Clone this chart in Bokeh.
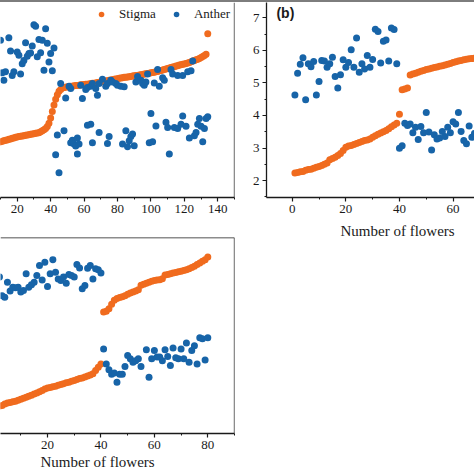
from bokeh.plotting import figure
from bokeh.layouts import column, row
from bokeh.models import Range1d, Legend, LegendItem, Span, Label, SingleIntervalTicker, Title
from bokeh.embed import file_html
from bokeh.resources import INLINE

STIGMA_COLOR = "#F06B1E"
ANTHER_COLOR = "#1764A8"
INK = "#1a1a1a"
SERIF = "Liberation Serif"

# ---------------- panel (a): flower number vs. length ----------------
a_stigma_x = list(range(9, 135))
a_stigma_y = [
    3.18,
    3.19, 3.21, 3.22, 3.24, 3.25, 3.27, 3.28, 3.30, 3.31, 3.33,
    3.34, 3.35, 3.36, 3.37, 3.38, 3.39, 3.40, 3.41, 3.42, 3.43,
    3.44, 3.45, 3.46, 3.47, 3.50, 3.53, 3.56, 3.60, 3.66, 3.76,
    3.92, 4.12, 4.32, 4.50, 4.64, 4.74, 4.80, 4.84, 4.86, 4.87,
    4.88, 4.89, 4.90, 4.90, 4.91, 4.92, 4.92, 4.93, 4.94, 4.94,
    4.95, 4.96, 4.96, 4.97, 4.98, 4.99, 4.99, 5.00, 5.01, 5.02,
    5.03, 5.04, 5.05, 5.06, 5.07, 5.08, 5.09, 5.10, 5.11, 5.12,
    5.13, 5.14, 5.15, 5.16, 5.17, 5.17, 5.18, 5.19, 5.20, 5.21,
    5.22, 5.23, 5.23, 5.24, 5.25, 5.26, 5.27, 5.28, 5.29, 5.30,
    5.31, 5.32, 5.33, 5.34, 5.35, 5.37, 5.38, 5.40, 5.41, 5.43,
    5.44, 5.46, 5.47, 5.49, 5.50, 5.52, 5.53, 5.55, 5.56, 5.57,
    5.58, 5.60, 5.61, 5.63, 5.65, 5.67, 5.69, 5.71, 5.73, 5.75,
    5.78, 5.81, 5.84, 5.88, 6.51,
]
a_anther_x = [
    10, 11, 12, 13, 15, 16, 17, 18, 20, 21, 22, 23, 24, 25, 26, 27, 28, 29,
    30, 31, 32, 33, 34, 35, 36, 37, 38, 39, 40, 41, 42,
    43, 44, 45, 46, 48, 49, 51, 52, 52, 53, 54, 55, 56, 56, 57, 58, 59,
    61, 62, 62, 64, 64, 65, 65, 67, 68, 69, 69, 71, 73, 74, 74, 75, 76, 77,
    79, 80, 82, 83, 84, 85, 86, 87, 88, 89, 90, 91, 92, 94, 95, 96, 97, 98,
    99, 100, 101, 102, 103, 104, 105, 107, 108, 109, 110, 111, 112, 113, 114,
    116, 116, 118, 119, 119, 121, 122, 123, 124, 125, 126, 127, 128, 129,
    130, 131, 132, 133, 134,
]
a_anther_y = [
    6.31, 5.31, 5.08, 5.34, 6.39, 5.98, 5.23, 5.34, 5.95, 5.85, 5.27, 5.59, 5.69, 6.23, 5.82, 5.90, 5.92, 6.13,
    6.79, 6.74, 5.80, 6.33, 5.93, 6.31, 5.39, 6.66, 6.22, 5.64, 5.90, 5.37, 6.07,
    2.79, 3.40, 2.24, 4.98, 3.53, 4.54, 4.90, 3.16, 4.83, 3.24, 3.12, 3.06, 2.82, 3.31, 3.12, 4.93, 4.52,
    4.80, 4.86, 3.70, 4.90, 3.73, 4.98, 3.16, 4.83, 4.62, 4.98, 3.48, 5.11, 4.90, 4.98, 3.14, 3.35, 5.08, 5.03,
    4.98, 4.93, 4.90, 3.12, 4.88, 3.53, 3.04, 3.22, 3.35, 3.43, 3.07, 5.03, 5.20, 5.08, 4.98, 4.93, 5.03, 5.27,
    3.16, 4.06, 3.19, 5.00, 3.68, 5.41, 4.90, 5.16, 5.08, 3.79, 3.63, 2.82, 5.41, 5.27, 3.63,
    3.60, 5.23, 3.73, 3.98, 5.23, 3.67, 5.34, 3.31, 5.37, 5.67, 3.38, 3.48, 3.73, 3.91,
    3.67, 3.19, 3.60, 3.91, 3.96,
]

# ---------------- panel (b) ----------------
b_stigma_x = list(range(1, 69))
b_stigma_y = [
    2.23, 2.25, 2.27, 2.28, 2.32, 2.34, 2.35, 2.38, 2.41, 2.43,
    2.46, 2.50, 2.54, 2.64, 2.68, 2.72, 2.77, 2.83, 2.92, 3.02,
    3.06, 3.08, 3.11, 3.14, 3.17, 3.20, 3.23, 3.25, 3.28, 3.33,
    3.38, 3.42, 3.46, 3.50, 3.54, 3.59, 3.65, 3.71, 3.76, 4.04,
    4.79, 4.81, 4.84, 5.24, 5.27, 5.30, 5.33, 5.36, 5.38, 5.41,
    5.43, 5.45, 5.47, 5.49, 5.51, 5.53, 5.55, 5.57, 5.60, 5.63,
    5.65, 5.67, 5.69, 5.71, 5.73, 5.74, 5.75, 5.76,
]
b_anther_x = list(range(1, 69))
b_anther_y = [
    4.63, 5.30, 5.57, 5.77, 4.48, 5.59, 5.50, 5.66, 4.63, 5.04,
    5.69, 5.67, 5.48, 5.59, 5.79, 5.20, 4.84, 5.25, 5.71, 5.48,
    5.63, 6.02, 5.48, 6.38, 5.33, 5.59, 5.43, 5.84, 5.48, 5.72,
    6.65, 6.58, 5.61, 6.28, 6.32, 5.67, 6.69, 6.64, 5.59, 2.99,
    3.07, 3.76, 3.69, 3.74, 3.47, 3.64, 3.26, 3.66, 3.47, 4.09,
    3.49, 2.94, 3.41, 3.28, 3.31, 3.51, 3.35, 3.64, 3.47, 3.81,
    3.74, 4.09, 3.51, 3.23, 3.13, 3.68, 3.33, 3.45,
]

# ---------------- lower panel ----------------
c_stigma_x = list(range(2, 81))
c_stigma_y = [
    2.34, 2.36, 2.40, 2.43, 2.45, 2.47, 2.49, 2.52, 2.55, 2.58,
    2.61, 2.64, 2.67, 2.71, 2.74, 2.78, 2.82, 2.86, 2.89, 2.91,
    2.93, 2.95, 2.98, 3.00, 3.02, 3.05, 3.07, 3.10, 3.12, 3.15,
    3.18, 3.20, 3.23, 3.26, 3.29, 3.33, 3.43, 3.53, 3.63, 5.22,
    5.24, 5.32, 5.46, 5.58, 5.63, 5.66, 5.69, 5.72, 5.76, 5.80,
    5.83, 5.86, 5.90, 6.04, 6.07, 6.10, 6.13, 6.16, 6.18, 6.20,
    6.21, 6.24, 6.35, 6.37, 6.39, 6.41, 6.43, 6.45, 6.47, 6.49,
    6.51, 6.54, 6.58, 6.62, 6.67, 6.72, 6.77, 6.82, 6.90,
]
c_anther_x = [
    2, 3, 4, 5, 6, 7, 8, 9, 10, 11, 12, 13, 14, 15, 16, 17, 18, 19, 20, 21,
    22, 23, 24, 25, 26, 27, 28, 29, 30, 31, 32, 33, 34, 35, 36, 37, 38, 39, 40,
    41, 42, 43, 44, 45, 46, 47, 48, 49, 50, 51, 52, 53, 54, 55, 57, 58, 59, 60,
    61, 62, 63, 64, 65, 66, 67, 68, 69, 70, 71, 72, 73, 74, 75, 76, 77, 78, 79, 80,
]
c_anther_y = [
    6.29, 5.72, 5.67, 6.13, 5.86, 5.98, 5.96, 5.98, 5.83, 5.88, 6.39, 5.98, 6.05, 6.13, 6.34, 6.64, 6.20, 6.74, 6.00, 6.39,
    6.82, 6.44, 6.23, 6.18, 6.29, 6.10, 6.37, 6.34, 6.29, 6.67, 6.57, 5.93, 6.03, 6.56, 6.64, 6.23, 6.54, 6.51, 6.41,
    4.09, 3.63, 3.45, 3.31, 3.35, 3.07, 3.31, 3.31, 3.55, 3.89, 3.79, 3.68, 3.73, 3.79, 3.55, 4.06, 3.22, 3.79, 4.04,
    3.84, 3.84, 3.73, 4.06, 3.86, 3.58, 4.12, 3.82, 3.79, 4.09, 3.79, 4.27, 3.68, 4.04, 4.19, 3.63, 4.43, 4.40, 3.75, 4.43,
]

x_ticks_step = 20
y_ticks_step = 1
xlabel = "Number of flowers"
DOT = 7


def make_fig(x_range, y_range, frame_w, frame_h, left, right, top, bottom, y_axis=True):
    p = figure(
        x_range=Range1d(*x_range), y_range=Range1d(*y_range),
        frame_width=frame_w, frame_height=frame_h,
        min_border_left=left, min_border_right=right,
        min_border_top=top, min_border_bottom=bottom,
        toolbar_location=None, output_backend="svg", title=None,
        y_axis_location="left" if y_axis else None,
        background_fill_color="white", border_fill_color="white",
    )
    p.outline_line_color = None
    p.grid.visible = False
    for ax in p.axis:
        ax.axis_line_color = INK
        ax.axis_line_width = 1.3
        ax.major_tick_line_color = INK
        ax.minor_tick_line_color = INK
        ax.major_tick_line_width = 1.2
        ax.minor_tick_line_width = 1.0
        ax.major_tick_out = 4
        ax.major_tick_in = 0
        ax.minor_tick_out = 2
        ax.minor_tick_in = 0
        ax.major_label_text_font = SERIF
        ax.major_label_text_font_size = "13px"
        ax.major_label_text_color = INK
        ax.major_label_standoff = 3
    p.xaxis.ticker = SingleIntervalTicker(interval=x_ticks_step, num_minor_ticks=2)
    if y_axis:
        p.yaxis.ticker = SingleIntervalTicker(interval=y_ticks_step, num_minor_ticks=2)
    return p


def border(p, loc, dim):
    p.add_layout(Span(location=loc, dimension=dim, line_color=INK, line_width=1.3))


def x_title(p, offset, standoff):
    p.add_layout(Title(text=xlabel, align="left", offset=offset, standoff=standoff,
                       text_font=SERIF, text_font_size="15px",
                       text_font_style="normal", text_color=INK), "below")


# top-left panel
pa = make_fig((10, 150), (1.48, 7.47), 234, 195, 0, 6, 0, 38, y_axis=False)
ra_s = pa.scatter(a_stigma_x, a_stigma_y, size=DOT, fill_color=STIGMA_COLOR, line_color=None)
ra_a = pa.scatter(a_anther_x, a_anther_y, size=DOT, fill_color=ANTHER_COLOR, line_color=None)
border(pa, 150, "height")
legend = Legend(
    items=[LegendItem(label="Stigma", renderers=[ra_s]),
           LegendItem(label="Anther", renderers=[ra_a])],
    orientation="horizontal", location="top_right",
    border_line_color=None, background_fill_alpha=0,
    label_text_font=SERIF, label_text_font_size="13px", label_text_color=INK,
    glyph_width=14, glyph_height=14, label_standoff=11, spacing=13,
    padding=0, margin=4,
)
pa.add_layout(legend)

# panel (b)
pb = make_fig((-9.6, 68), (1.48, 7.47), 208, 195, 26, 0, 0, 38)
pb.scatter(b_stigma_x, b_stigma_y, size=DOT, fill_color=STIGMA_COLOR, line_color=None)
pb.scatter(b_anther_x, b_anther_y, size=DOT, fill_color=ANTHER_COLOR, line_color=None)
pb.add_layout(Label(x=-5.9, y=7.15, text="(b)", text_font="Liberation Sans",
                    text_font_style="bold", text_font_size="14px", text_color=INK,
                    text_baseline="middle", text_align="left"))
x_title(pb, 74, 11)

# lower panel
pc = make_fig((2.4, 90), (1.5, 7.5), 234, 196, 0, 6, 2, 39, y_axis=False)
pc.scatter(c_stigma_x, c_stigma_y, size=DOT, fill_color=STIGMA_COLOR, line_color=None)
pc.scatter(c_anther_x, c_anther_y, size=DOT, fill_color=ANTHER_COLOR, line_color=None)
border(pc, 90, "height")
border(pc, 7.5, "width")
x_title(pc, 40, 0)

layout = row(column(pa, pc), pb, styles={"border-top": "2px solid #7d7d7d"})

open("out.html", "w").write(file_html(layout, INLINE))
